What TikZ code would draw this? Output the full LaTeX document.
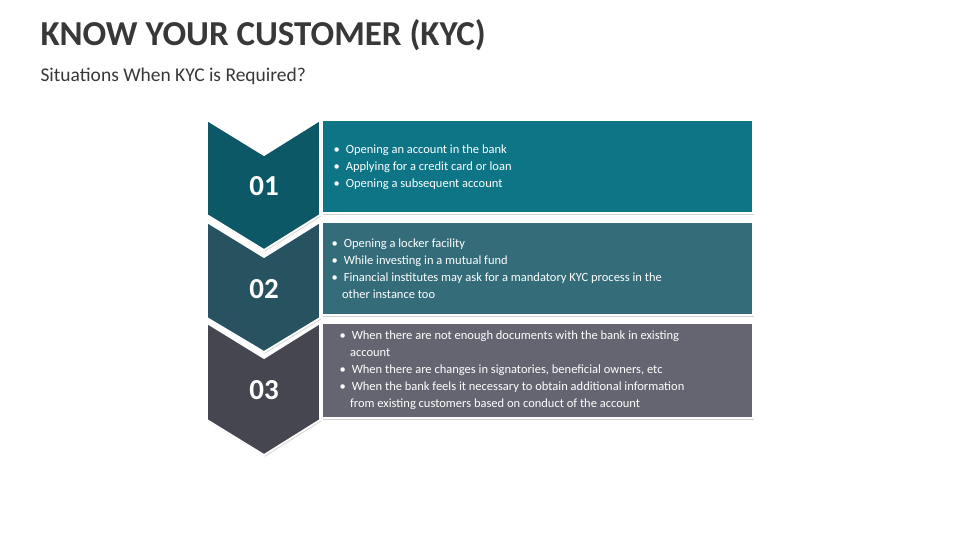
\documentclass[tikz,border=0pt]{standalone}
\usepackage{fontspec}
\setmainfont{Carlito}
\usetikzlibrary{shadows}
\begin{document}
\begin{tikzpicture}[x=1pt,y=-1pt,
  chev/.style={draw=white,line width=1.8pt,line join=miter, drop shadow={opacity=0.35,shadow xshift=1pt,shadow yshift=-1.5pt}},
  box/.style={draw=white,line width=1.8pt,drop shadow={opacity=0.35,shadow xshift=1pt,shadow yshift=-1.5pt}},
  num/.style={text=white,font=\bfseries\fontsize{29}{30}\selectfont},
  txt/.style={text=white,anchor=north west,align=left,font=\fontsize{12.5}{17}\selectfont}]
\useasboundingbox[fill=white] (0,0) rectangle (960,540);
\definecolor{c1}{HTML}{0D5867}\definecolor{b1}{HTML}{0E7587}
\definecolor{c2}{HTML}{275260}\definecolor{b2}{HTML}{346C79}
\definecolor{c3}{HTML}{45464F}\definecolor{b3}{HTML}{656571}
\node[anchor=base west,text=black!78,font=\bfseries\fontsize{35}{36}\selectfont] (title) at (37,46) {KNOW YOUR CUSTOMER (KYC)};
\node[anchor=base west,text=black!78,font=\fontsize{19.5}{20}\selectfont] (sub) at (37,82) {Situations When KYC is Required?};
% boxes
\path[box,fill=b1] (322,120) rectangle (753,213);
\path[box,fill=b2] (322,222) rectangle (753,315);
\path[box,fill=b3] (322,323) rectangle (753,418);
% chevrons
\path[chev,fill=c3] (207,323)--(264,358)--(320,323)--(320,420)--(264,455)--(207,420)--cycle;
\path[chev,fill=c2] (207,222)--(264,257)--(320,222)--(320,318)--(264,352)--(207,318)--cycle;
\path[chev,fill=c1] (207,120)--(264,155)--(320,120)--(320,215)--(264,250)--(207,215)--cycle;
\node[num] (n1) at (264,186) {01};
\node[num] (n2) at (264,289) {02};
\node[num] (n3) at (264,390) {03};
\node[txt] (t1) at (330,141) {\textbullet\hspace{6pt}Opening an account in the bank\\\textbullet\hspace{6pt}Applying for a credit card or loan\\\textbullet\hspace{6pt}Opening a subsequent account};
\node[txt] (t2) at (328,235) {\textbullet\hspace{6pt}Opening a locker facility\\\textbullet\hspace{6pt}While investing in a mutual fund\\\textbullet\hspace{6pt}Financial institutes may ask for a mandatory KYC process in the\\\hspace{10.5pt}other instance too};
\node[txt] (t3) at (336,327) {\textbullet\hspace{6pt}When there are not enough documents with the bank in existing\\\hspace{10.5pt}account\\\textbullet\hspace{6pt}When there are changes in signatories, beneficial owners, etc\\\textbullet\hspace{6pt}When the bank feels it necessary to obtain additional information\\\hspace{10.5pt}from existing customers based on conduct of the account};
\end{tikzpicture}
\end{document}
